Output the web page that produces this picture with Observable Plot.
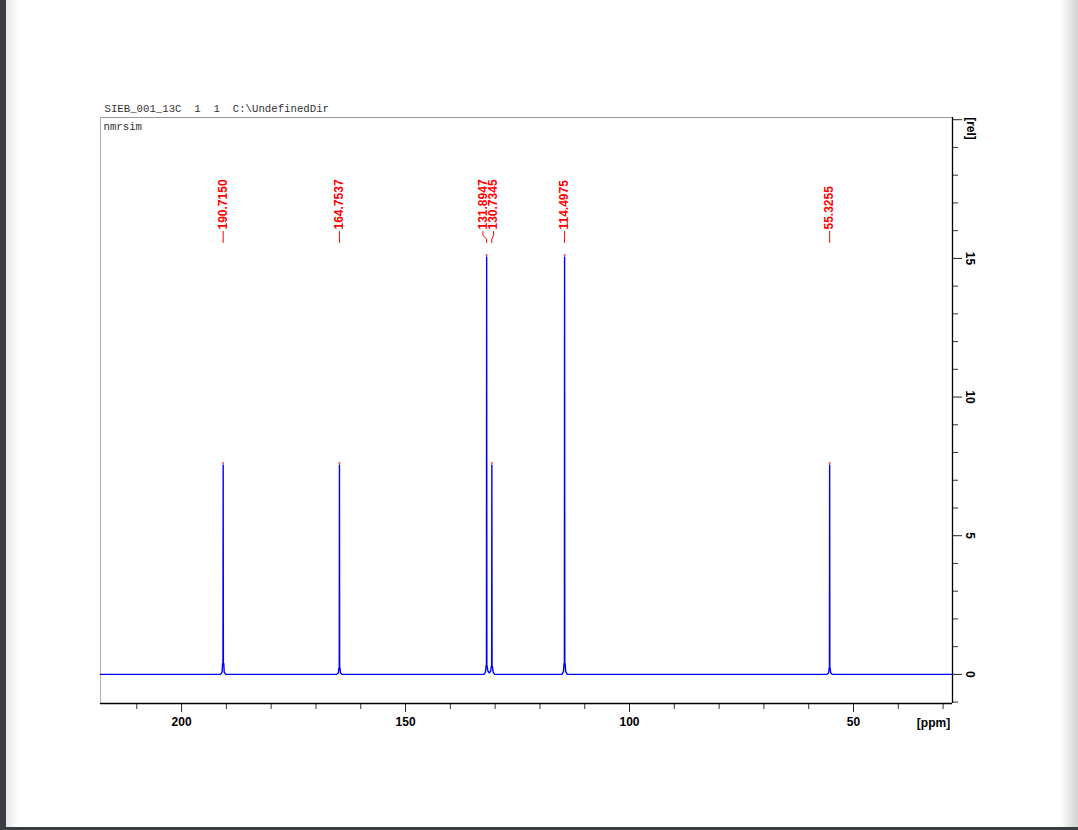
<!DOCTYPE html>
<html>
<head>
<meta charset="utf-8">
<script src="https://cdn.jsdelivr.net/npm/d3@7"></script>
<script src="https://cdn.jsdelivr.net/npm/@observablehq/plot@0.6"></script>
<style>
  body { margin:0; width:1078px; height:830px; position:relative; overflow:hidden; background:#fff; }
  .bg { position:absolute; }
  #chart { position:absolute; left:0; top:0; }
</style>
</head>
<body>
<div class="bg" style="left:0;top:0;width:6px;height:830px;background:#3a3d42"></div>
<div class="bg" style="left:6px;top:0;width:12px;height:830px;background:linear-gradient(to right,#e6e6e6,#ffffff)"></div>
<div class="bg" style="right:0;top:0;width:18px;height:830px;background:linear-gradient(to right,#ffffff,#d2d2d2)"></div>
<div class="bg" style="left:0;bottom:0;width:1078px;height:3px;background:#3a3d42"></div>
<div id="chart"></div>
<script>
// ---------- data ----------
const peakPpm = [190.7150, 164.7537, 131.8947, 130.7345, 114.4975, 55.3255];
const peakLabels = ["190.7150", "164.7537", "131.8947", "130.7345", "114.4975", "55.3255"];
const peakHeights = [7.55, 7.55, 15.05, 7.55, 15.05, 7.55];

const specPpm = [218.1,
  191.3,190.95,190.85,190.76,190.715,190.67,190.58,190.48,190.13,
  165.34,164.99,164.89,164.80,164.754,164.71,164.62,164.52,164.17,
  132.5,132.15,132.03,131.94,131.895,131.85,131.6,131.3,131.0,130.85,130.78,130.735,130.69,130.6,130.45,130.1,
  115.1,114.75,114.62,114.54,114.498,114.45,114.37,114.25,113.9,
  55.9,55.55,55.45,55.37,55.326,55.28,55.2,55.1,54.75,
  27.9];
const specInt = [0,
  0,0.08,0.38,0.42,7.55,0.42,0.38,0.08,0,
  0,0.06,0.22,0.25,7.55,0.25,0.22,0.06,0,
  0,0.08,0.30,0.34,15.05,0.34,0.12,0.05,0.12,0.28,0.30,7.55,0.30,0.28,0.08,0,
  0,0.1,0.38,0.42,15.05,0.42,0.38,0.1,0,
  0,0.06,0.22,0.25,7.55,0.25,0.22,0.06,0,
  0];

const xMajor = [200, 150, 100, 50];
const xMinor = [210, 190, 180, 170, 160, 140, 130, 120, 110, 90, 80, 70, 60, 40, 30];
const yMajor = [0, 5, 10, 15, 20];
const yLabels = [0, 5, 10, 15];
const yMinor = d3.range(-1, 21).filter(v => v % 5 !== 0);

const headerText = "SIEB_001_13C  1  1  C:\\UndefinedDir";
const innerText = "nmrsim";

// ---------- layout ----------
const W = 1078, H = 830, mL = 100, mR = 126, mT = 117, mB = 127;
const xDomain = [218.1, 27.9];
const yDomain = [-1.05, 20.08];

const xS = Plot.scale({x: {domain: xDomain, range: [mL, W - mR]}});
const yS = Plot.scale({y: {domain: yDomain, range: [H - mB, mT]}});

const spectrum = specPpm.map((p, i) => ({ppm: p, v: specInt[i]}));
const peaks = peakPpm.map((p, i) => ({ppm: p, label: peakLabels[i], h: peakHeights[i]}));

// spread close labels apart (pixel space)
const minGap = 10.6;
const px = peaks.map(d => xS.apply(d.ppm));
const lx = px.slice();
let i = 0;
while (i < lx.length) {
  let j = i;
  while (j + 1 < lx.length && Math.abs(px[j + 1] - px[j]) < minGap) j++;
  if (j > i) {
    const mean = d3.mean(px.slice(i, j + 1)) - 1;
    const n = j - i + 1;
    for (let k = i; k <= j; k++) lx[k] = mean + (k - i - (n - 1) / 2) * minGap;
  }
  i = j + 1;
}
peaks.forEach((d, k) => { d.labelPpm = xS.invert(lx[k]); });

const connectors = [];
peaks.forEach(d => {
  connectors.push({ppm: d.labelPpm, v: yS.invert(231), id: d.label});
  connectors.push({ppm: d.labelPpm, v: yS.invert(235), id: d.label});
  connectors.push({ppm: d.ppm, v: yS.invert(238.5), id: d.label});
  connectors.push({ppm: d.ppm, v: yS.invert(242), id: d.label});
});

const chart = Plot.plot({
  width: W, height: H,
  marginLeft: mL, marginRight: mR, marginTop: mT, marginBottom: mB,
  style: {fontFamily: "'Liberation Sans', Arial, sans-serif", background: "transparent"},
  x: {domain: xDomain},
  y: {domain: yDomain},
  marks: [
    Plot.ruleY([yDomain[1]], {stroke: "#9a9a9a", strokeWidth: 1}),
    Plot.ruleX([xDomain[0]], {stroke: "#b0b0b0", strokeWidth: 1}),
    Plot.line(spectrum, {x: "ppm", y: "v", stroke: "#0000ff", strokeWidth: 1.4, curve: "linear"}),
    Plot.dot(peaks, {x: "ppm", y: "h", dy: -2, r: 1.1, fill: "#ff5050", stroke: "none"}),
    Plot.line(connectors, {x: "ppm", y: "v", z: "id", stroke: "#ff0000", strokeWidth: 1}),
    Plot.text(peaks, {x: "labelPpm", frameAnchor: "top", dy: 229 - mT, text: "label", rotate: -90,
      textAnchor: "start", lineAnchor: "middle", fill: "#ff0000", fontSize: 12, fontWeight: "bold"}),
    // bottom axis
    Plot.axisX(xMinor, {anchor: "bottom", tickSize: 6, tickFormat: () => "", stroke: "#333", label: null}),
    Plot.axisX(xMajor, {anchor: "bottom", tickSize: 9, tickPadding: 5, stroke: "#222", fill: "#000",
      fontSize: 12, fontWeight: "bold", label: null, tickFormat: d => String(d)}),
    Plot.ruleY([yDomain[0]], {stroke: "#000", strokeWidth: 1.3}),
    Plot.text(["[ppm]"], {frameAnchor: "bottom-right", dx: -19, dy: 20, text: d => d,
      textAnchor: "middle", lineAnchor: "middle", fontSize: 12, fontWeight: "bold", fill: "#000"}),
    // right axis
    Plot.axisY(yMinor, {anchor: "right", tickSize: 5, tickFormat: () => "", stroke: "#333", label: null}),
    Plot.axisY(yMajor, {anchor: "right", tickSize: 9, tickFormat: () => "", stroke: "#222", label: null}),
    Plot.ruleX([xDomain[1]], {stroke: "#000", strokeWidth: 1.3}),
    Plot.text(yLabels, {y: d => d, frameAnchor: "right", dx: 17, rotate: 90, text: d => String(d),
      textAnchor: "middle", lineAnchor: "middle", fontSize: 12, fontWeight: "bold", fill: "#000"}),
    Plot.text(["[rel]"], {frameAnchor: "top-right", dx: 18, dy: 11, rotate: 90, text: d => d,
      textAnchor: "middle", lineAnchor: "middle", fontSize: 12, fontWeight: "bold", fill: "#000"}),
    // header texts
    Plot.text([headerText], {frameAnchor: "top-left", dx: 4, dy: -9, text: d => d, textAnchor: "start",
      lineAnchor: "middle", fontFamily: "'Liberation Mono', 'DejaVu Sans Mono', monospace", fontSize: 10.7, fill: "#333"}),
    Plot.text([innerText], {frameAnchor: "top-left", dx: 3, dy: 9, text: d => d, textAnchor: "start",
      lineAnchor: "middle", fontFamily: "'Liberation Mono', 'DejaVu Sans Mono', monospace", fontSize: 10.7, fill: "#333"})
  ]
});
document.getElementById("chart").appendChild(chart);
</script>
</body>
</html>
